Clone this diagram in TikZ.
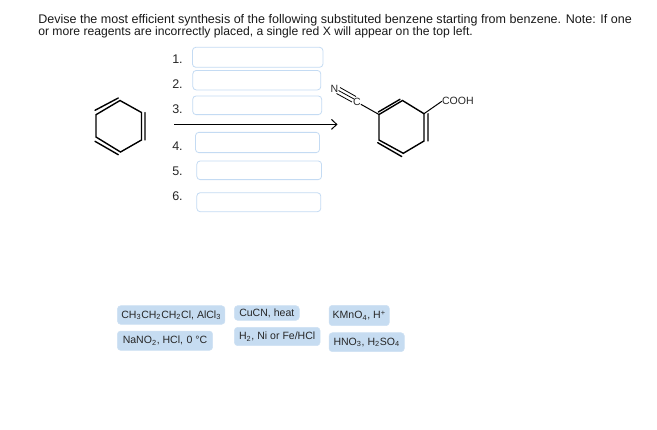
\documentclass[tikz,border=0pt]{standalone}
\usepackage{fontspec}
\setmainfont{Liberation Sans}
\usetikzlibrary{arrows.meta}
\definecolor{boxline}{HTML}{C4DBF3}
\definecolor{chipfill}{HTML}{C6DCF1}
\newcommand{\low}[1]{\textsubscript{#1}}
\tikzset{
	ansbox/.style={draw=boxline,line width=0.6pt,rounded corners=2.5pt,fill=white,inner sep=0pt},
	chip/.style={fill=chipfill,draw=chipfill!85!white,rounded corners=2.5pt,inner sep=0pt,font=\fontsize{7.9}{9}\selectfont,text=black!85},
	num/.style={font=\fontsize{9.4}{10}\selectfont,text=black!85},
	atom/.style={font=\fontsize{7.9}{9}\selectfont,text=black!85,inner sep=0pt},
	bond/.style={line width=1.05pt,line cap=round}
}
\begin{document}
\begin{tikzpicture}[x=0.75pt,y=-0.75pt,>={Straight Barb[length=4pt,width=7.5pt]}]
	\useasboundingbox (0,0) rectangle (657,429);
	\node[anchor=north west,inner sep=0pt,text=black!90,align=left] (question) at (38,14.5) {\fontsize{9.4}{8.9}\selectfont Devise the most efficient synthesis of the following substituted benzene starting from benzene. Note: If one\\[-3pt]\fontsize{9.12}{8.9}\selectfont or more reagents are incorrectly placed, a single red X will appear on the top left.};
	% answer boxes
	\node[ansbox,minimum width=130bp*0.75,minimum height=15pt] (box1) at (257.7,57.3) {};
	\node[ansbox,minimum width=127.5bp*0.75,minimum height=14.6pt] (box2) at (256.8,80.2) {};
	\node[ansbox,minimum width=128.5bp*0.75,minimum height=14pt] (box3) at (257.2,105.3) {};
	\node[ansbox,minimum width=123.6bp*0.75,minimum height=15.2pt] (box4) at (257.5,142.5) {};
	\node[ansbox,minimum width=124.3bp*0.75,minimum height=14pt] (box5) at (259.2,170.3) {};
	\node[ansbox,minimum width=123.5bp*0.75,minimum height=14.2pt] (box6) at (258.8,202.2) {};
	\node[num] (n1) at (177.5,59.3) {1.};
	\node[num] (n2) at (177.5,84) {2.};
	\node[num] (n3) at (177.5,108.7) {3.};
	\node[num] (n4) at (177.5,146.3) {4.};
	\node[num] (n5) at (177.5,171) {5.};
	\node[num] (n6) at (177.5,195.7) {6.};
	% reaction arrow
	\coordinate (arrowstart) at (174.3,124.4);
	\coordinate (arrowend) at (337.5,124.4);
	\draw[->,line width=0.75pt] (arrowstart)--(arrowend);
	% benzene
	\draw[bond] (120,100.5)--(96,114.7)--(96,137)--(120.5,152)--(141.5,140)--(141.5,112.5)--cycle;
	\draw[bond] (95,110.3)--(118.3,98) (95,141.3)--(118.3,154.7) (145,112.5)--(145,140);
	% product
	\draw[bond] (402.5,100.5)--(379,114.5)--(379,140)--(403.3,153.3)--(424,141)--(424,113.7)--cycle;
	\draw[bond] (378.3,112)--(400,99.3) (377.7,142.7)--(401.7,156.5) (428,113.7)--(428,141);
	\node[atom] (cn) at (356.8,102) {C};
	\node[atom] (nit) at (334.3,89.3) {N};
	\node[atom,anchor=west] (cooh) at (441.8,101.3) {COOH};
	\draw[line width=0.75pt] (cn)--(379,114.5) (424,113.7)--(cooh.west);
	\draw[line width=0.6pt] (340,87.5)--(356,96.5) (338.5,90.5)--(354,99) (336.5,93.5)--(352,102);
	% reagent chips
	\node[chip,minimum width=80.6pt,minimum height=14pt] (alkyl) at (171.2,315) {CH\low{3}CH\low{2}CH\low{2}Cl, AlCl\low{3}};
	\node[chip,minimum width=48.7pt,minimum height=11pt] (cucn) at (266.8,313) {CuCN, heat};
	\node[chip,minimum width=45.2pt,minimum height=15.3pt] (kmno) at (359.2,315.5) {KMnO\low{4}, H\textsuperscript{+}};
	\node[chip,minimum width=71.5pt,minimum height=14.5pt] (nano) at (165,340.7) {NaNO\low{2}, HCl,\,\,0 °C};
	\node[chip,minimum width=64.3pt,minimum height=13.8pt] (hyd) at (277.2,336.5) {H\low{2}, Ni or Fe/HCl};
	\node[chip,minimum width=56.5pt,minimum height=14.2pt] (hno) at (366.7,342.2) {HNO\low{3}, H\low{2}SO\low{4}};
\end{tikzpicture}
\end{document}
